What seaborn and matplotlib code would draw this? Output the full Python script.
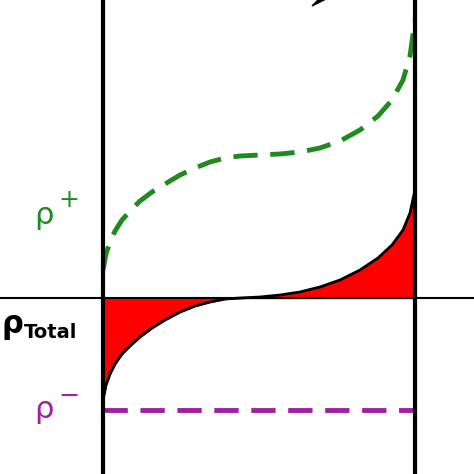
import numpy as np
import pandas as pd
import matplotlib
matplotlib.use("Agg")
import matplotlib.pyplot as plt
import seaborn as sns

# pixel-space schematic (y grows downward)
total_x = [103, 106, 110, 115, 122, 130, 140, 152, 165, 180, 195, 210, 225, 240, 260, 280, 300, 320, 340, 360, 378, 392, 403, 410, 415]
total_y = [400, 385, 374, 364, 354, 346, 337, 328, 320, 312, 306, 302, 299, 298, 297, 295, 292, 287, 280, 270, 258, 245, 230, 213, 190]
plus_x = [103, 106, 110, 115, 122, 130, 140, 152, 165, 180, 195, 210, 225, 240, 260, 280, 300, 320, 340, 360, 378, 392, 403, 410, 415]
plus_y = [270, 254, 242, 231, 220, 211, 201, 192, 184, 175, 168, 162, 158, 156, 155, 154, 152, 148, 141, 130, 116, 100, 80, 56, 20]
minus_x = [103, 415]
minus_y = [410, 410]
baseline_y = 298
walls_x = [103, 415]
arrow_x = [312, 326, 322]
arrow_y = [6, -1, -4]

sns.set_style("white")
plt.rcParams['font.family'] = ['DejaVu Sans']
fig = plt.figure(figsize=(4.74, 4.74), dpi=100)
ax = fig.add_axes([0, 0, 1, 1])
ax.set_xlim(0, 474)
ax.set_ylim(474, 0)
ax.axis("off")

ax.fill_between(total_x, total_y, baseline_y, color="red", zorder=1)
sns.lineplot(x=total_x, y=total_y, color="black", lw=2, ax=ax, sort=False, zorder=3)
sns.lineplot(x=plus_x, y=plus_y, color="#1f8a1f", lw=3.5, ax=ax, sort=False,
             linestyle=(0, (5, 2.6)), zorder=3)
sns.lineplot(x=minus_x, y=minus_y, color="#a020a0", lw=3.5, ax=ax, sort=False,
             linestyle=(0, (5, 2.6)), zorder=3)
ax.axhline(baseline_y, color="black", lw=1.5, zorder=2)
for wx in walls_x:
    ax.axvline(wx, color="black", lw=3, zorder=4)
ax.fill(arrow_x, arrow_y, color="black", clip_on=True)

ax.text(34, 215, "ρ", color="#1f8a1f", fontsize=22, ha="left", va="center")
ax.text(58, 200, "+", color="#1f8a1f", fontsize=18, ha="left", va="center")
ax.text(2, 325, "ρ", color="black", fontsize=22, fontweight="bold", ha="left", va="center")
ax.text(24, 332, "Total", color="black", fontsize=14, fontweight="bold", ha="left", va="center")
ax.text(34, 410, "ρ", color="#a020a0", fontsize=22, ha="left", va="center")
ax.text(58, 396, "−", color="#a020a0", fontsize=18, ha="left", va="center")

fig.savefig("out.png", dpi=100)
